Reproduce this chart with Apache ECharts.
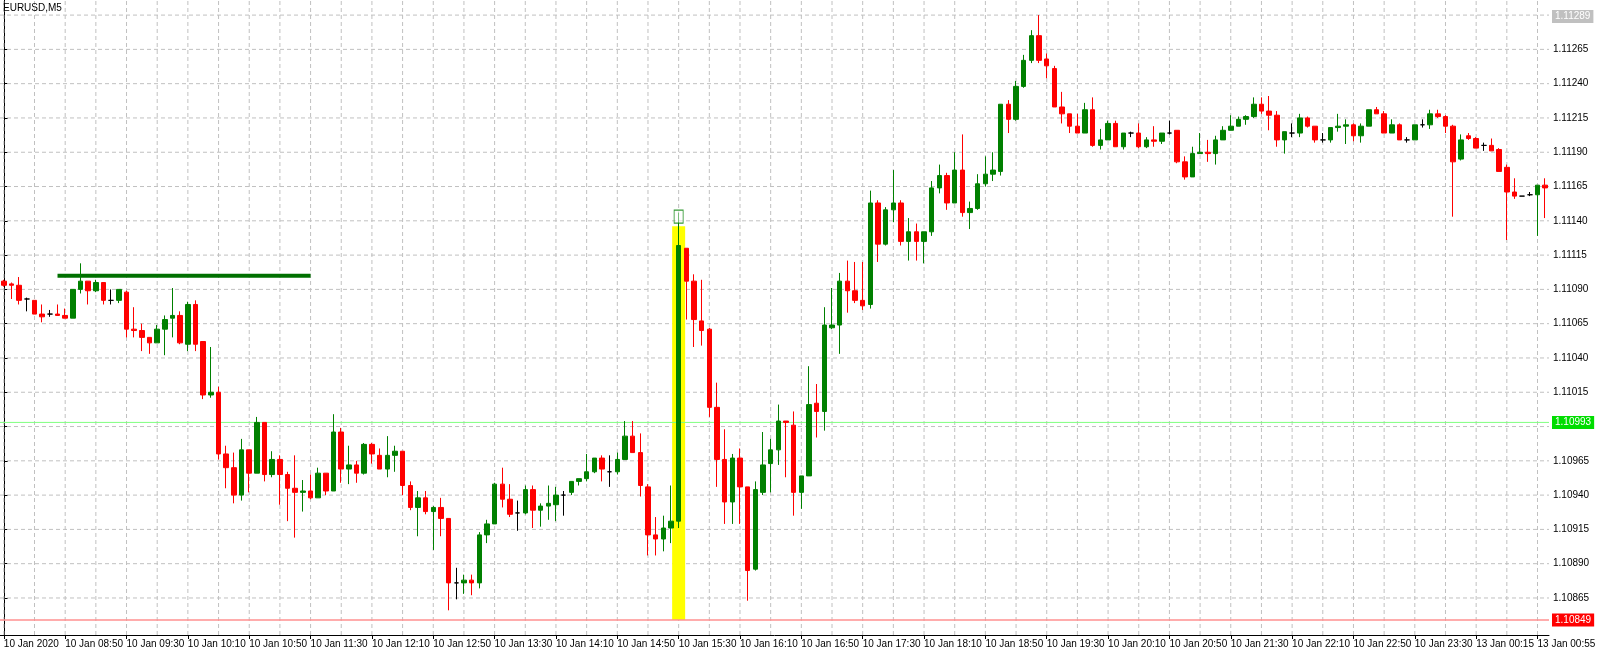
<!DOCTYPE html>
<html><head><meta charset="utf-8">
<script src="https://cdn.jsdelivr.net/npm/echarts@6/dist/echarts.min.js"></script>
<style>html,body{margin:0;padding:0;background:#fff}#c{width:1600px;height:651px}</style>
</head><body><div id="c"></div>
<script>
const symbolTitle = "EURUSD,M5";
// [open, close, low, high]
const candles = [
[1.11096,1.11093,1.11092,1.11097],[1.11094,1.11093,1.11083,1.11095],[1.11093,1.11082,1.11079,1.11099],[1.11083,1.11083,1.11074,1.11084],
[1.11082,1.11072,1.11072,1.11082],[1.11072,1.11070,1.11066,1.11079],[1.11072,1.11072,1.11070,1.11075],[1.11072,1.11071,1.11071,1.11079],
[1.11071,1.11069,1.11069,1.11076],[1.11069,1.11090,1.11069,1.11090],[1.11090,1.11096,1.11087,1.11109],[1.11096,1.11089,1.11079,1.11096],
[1.11089,1.11095,1.11088,1.11097],[1.11095,1.11082,1.11079,1.11095],[1.11082,1.11082,1.11079,1.11090],[1.11082,1.11090,1.11080,1.11090],
[1.11088,1.11061,1.11055,1.11089],[1.11061,1.11060,1.11055,1.11077],[1.11060,1.11055,1.11045,1.11065],[1.11055,1.11051,1.11043,1.11055],
[1.11051,1.11061,1.11051,1.11064],[1.11061,1.11068,1.11042,1.11071],[1.11069,1.11071,1.11055,1.11091],[1.11071,1.11051,1.11050,1.11074],
[1.11050,1.11079,1.11045,1.11081],[1.11079,1.11050,1.11045,1.11082],[1.11052,1.11013,1.11010,1.11052],[1.11013,1.11015,1.11011,1.11048],
[1.11015,1.10970,1.10966,1.11019],[1.10970,1.10960,1.10945,1.10976],[1.10960,1.10940,1.10934,1.10971],[1.10940,1.10973,1.10936,1.10981],
[1.10973,1.10956,1.10942,1.10973],[1.10956,1.10993,1.10956,1.10997],[1.10993,1.10955,1.10950,1.10993],[1.10955,1.10966,1.10953,1.10972],
[1.10966,1.10955,1.10933,1.10969],[1.10955,1.10945,1.10921,1.10957],[1.10945,1.10942,1.10909,1.10969],[1.10942,1.10943,1.10928,1.10951],
[1.10943,1.10938,1.10937,1.10955],[1.10938,1.10956,1.10938,1.10960],[1.10956,1.10943,1.10940,1.10956],[1.10943,1.10986,1.10943,1.10999],
[1.10986,1.10959,1.10949,1.10989],[1.10959,1.10962,1.10948,1.10976],[1.10962,1.10956,1.10949,1.10965],[1.10956,1.10977,1.10955,1.10978],
[1.10977,1.10970,1.10963,1.10978],[1.10969,1.10959,1.10959,1.10974],[1.10959,1.10969,1.10953,1.10983],[1.10969,1.10972,1.10957,1.10976],
[1.10972,1.10947,1.10940,1.10972],[1.10947,1.10931,1.10929,1.10950],[1.10931,1.10938,1.10910,1.10943],[1.10938,1.10928,1.10926,1.10943],
[1.10928,1.10931,1.10900,1.10932],[1.10931,1.10923,1.10910,1.10938],[1.10923,1.10876,1.10856,1.10923],[1.10876,1.10876,1.10864,1.10887],
[1.10876,1.10878,1.10868,1.10882],[1.10878,1.10876,1.10867,1.10882],[1.10876,1.10911,1.10872,1.10913],[1.10911,1.10919,1.10905,1.10922],
[1.10919,1.10948,1.10919,1.10949],[1.10948,1.10937,1.10931,1.10960],[1.10937,1.10926,1.10924,1.10948],[1.10927,1.10927,1.10914,1.10936],
[1.10927,1.10944,1.10926,1.10947],[1.10944,1.10929,1.10916,1.10947],[1.10929,1.10932,1.10917,1.10934],[1.10932,1.10934,1.10922,1.10947],
[1.10933,1.10940,1.10921,1.10946],[1.10940,1.10940,1.10925,1.10943],[1.10942,1.10950,1.10940,1.10950],[1.10950,1.10952,1.10947,1.10952],
[1.10952,1.10957,1.10950,1.10970],[1.10957,1.10967,1.10956,1.10967],[1.10967,1.10959,1.10950,1.10969],[1.10957,1.10957,1.10946,1.10969],
[1.10957,1.10966,1.10955,1.10971],[1.10966,1.10983,1.10966,1.10994],[1.10983,1.10971,1.10971,1.10994],[1.10971,1.10947,1.10939,1.10985],
[1.10946,1.10911,1.10896,1.10948],[1.10911,1.10908,1.10896,1.10924],[1.10908,1.10916,1.10899,1.10925],[1.10916,1.10921,1.10905,1.10947],
[1.10921,1.11122,1.10916,1.11146],[1.11120,1.11096,1.11068,1.11120],[1.11096,1.11068,1.11048,1.11101],[1.11067,1.11060,1.11049,1.11097],
[1.11061,1.11004,1.10997,1.11062],[1.11004,1.10966,1.10946,1.11022],[1.10966,1.10935,1.10919,1.10988],[1.10935,1.10967,1.10919,1.10970],
[1.10967,1.10946,1.10919,1.10974],[1.10946,1.10885,1.10863,1.10946],[1.10886,1.10944,1.10885,1.10950],[1.10942,1.10962,1.10940,1.10986],
[1.10963,1.10973,1.10942,1.10981],[1.10973,1.10994,1.10962,1.11006],[1.10994,1.10993,1.10953,1.10994],[1.10991,1.10942,1.10925,1.11001],
[1.10942,1.10954,1.10930,1.10954],[1.10954,1.11006,1.10954,1.11034],[1.11007,1.11001,1.10982,1.11021],[1.11001,1.11064,1.10987,1.11077],
[1.11062,1.11064,1.11061,1.11091],[1.11064,1.11096,1.11043,1.11102],[1.11096,1.11089,1.11073,1.11111],[1.11089,1.11082,1.11080,1.11110],
[1.11082,1.11078,1.11075,1.11110],[1.11079,1.11153,1.11076,1.11162],[1.11153,1.11123,1.11110,1.11155],[1.11123,1.11148,1.11122,1.11150],
[1.11148,1.11153,1.11139,1.11177],[1.11153,1.11125,1.11122,1.11155],[1.11125,1.11132,1.11111,1.11142],[1.11132,1.11125,1.11111,1.11138],
[1.11125,1.11132,1.11109,1.11132],[1.11132,1.11164,1.11129,1.11169],[1.11164,1.11173,1.11160,1.11181],[1.11173,1.11153,1.11148,1.11175],
[1.11153,1.11177,1.11153,1.11190],[1.11177,1.11146,1.11143,1.11203],[1.11146,1.11149,1.11134,1.11154],[1.11149,1.11167,1.11148,1.11174],
[1.11167,1.11174,1.11165,1.11187],[1.11174,1.11177,1.11169,1.11190],[1.11176,1.11225,1.11173,1.11225],[1.11225,1.11214,1.11204,1.11228],
[1.11214,1.11238,1.11213,1.11242],[1.11238,1.11257,1.11237,1.11261],[1.11257,1.11275,1.11255,1.11279],[1.11275,1.11257,1.11255,1.11290],
[1.11258,1.11253,1.11244,1.11262],[1.11251,1.11223,1.11223,1.11253],[1.11223,1.11218,1.11211,1.11234],[1.11218,1.11209,1.11204,1.11218],
[1.11209,1.11204,1.11204,1.11218],[1.11204,1.11221,1.11204,1.11226],[1.11221,1.11195,1.11194,1.11230],[1.11195,1.11199,1.11192,1.11207],
[1.11199,1.11211,1.11199,1.11213],[1.11211,1.11194,1.11194,1.11213],[1.11194,1.11204,1.11192,1.11204],[1.11204,1.11204,1.11201,1.11205],
[1.11204,1.11194,1.11193,1.11211],[1.11194,1.11199,1.11193,1.11201],[1.11199,1.11198,1.11194,1.11209],[1.11198,1.11204,1.11196,1.11204],
[1.11204,1.11204,1.11203,1.11213],[1.11206,1.11183,1.11182,1.11206],[1.11183,1.11172,1.11170,1.11187],[1.11172,1.11189,1.11172,1.11194],
[1.11189,1.11190,1.11189,1.11204],[1.11190,1.11189,1.11183,1.11199],[1.11189,1.11199,1.11181,1.11202],[1.11199,1.11206,1.11199,1.11209],
[1.11206,1.11209,1.11206,1.11217],[1.11209,1.11214,1.11209,1.11216],[1.11214,1.11216,1.11210,1.11217],[1.11216,1.11225,1.11215,1.11230],
[1.11225,1.11220,1.11218,1.11230],[1.11220,1.11217,1.11206,1.11231],[1.11217,1.11199,1.11194,1.11220],[1.11199,1.11205,1.11189,1.11205],
[1.11204,1.11204,1.11201,1.11211],[1.11204,1.11215,1.11201,1.11218],[1.11215,1.11209,1.11208,1.11216],[1.11209,1.11199,1.11197,1.11209],
[1.11199,1.11199,1.11197,1.11204],[1.11199,1.11208,1.11197,1.11208],[1.11208,1.11209,1.11205,1.11218],[1.11209,1.11210,1.11196,1.11214],
[1.11210,1.11202,1.11198,1.11211],[1.11202,1.11209,1.11197,1.11211],[1.11209,1.11221,1.11209,1.11221],[1.11221,1.11218,1.11218,1.11223],
[1.11218,1.11204,1.11204,1.11220],[1.11204,1.11210,1.11204,1.11214],[1.11210,1.11199,1.11199,1.11211],[1.11199,1.11199,1.11197,1.11201],
[1.11199,1.11210,1.11199,1.11210],[1.11210,1.11210,1.11208,1.11214],[1.11210,1.11218,1.11207,1.11221],[1.11218,1.11216,1.11215,1.11221],
[1.11216,1.11209,1.11204,1.11217],[1.11209,1.11183,1.11143,1.11210],[1.11185,1.11199,1.11184,1.11203],[1.11202,1.11200,1.11199,1.11204],
[1.11200,1.11193,1.11193,1.11201],[1.11195,1.11195,1.11191,1.11197],[1.11195,1.11191,1.11191,1.11200],[1.11192,1.11176,1.11176,1.11193],
[1.11179,1.11161,1.11126,1.11181],[1.11161,1.11158,1.11156,1.11171],[1.11158,1.11158,1.11158,1.11158],[1.11159,1.11159,1.11158,1.11161],
[1.11159,1.11166,1.11129,1.11166],[1.11166,1.11164,1.11142,1.11171]
];
const xTickLabels = ["10 Jan 2020","10 Jan 08:50","10 Jan 09:30","10 Jan 10:10","10 Jan 10:50","10 Jan 11:30","10 Jan 12:10","10 Jan 12:50","10 Jan 13:30","10 Jan 14:10","10 Jan 14:50","10 Jan 15:30","10 Jan 16:10","10 Jan 16:50","10 Jan 17:30","10 Jan 18:10","10 Jan 18:50","10 Jan 19:30","10 Jan 20:10","10 Jan 20:50","10 Jan 21:30","10 Jan 22:10","10 Jan 22:50","10 Jan 23:30","13 Jan 00:15","13 Jan 00:55"];
const yTicks = [1.10865,1.10890,1.10915,1.10940,1.10965,1.10990,1.11015,1.11040,1.11065,1.11090,1.11115,1.11140,1.11165,1.11190,1.11215,1.11240,1.11265];
const yGridExtra = [1.11290];
const askPrice = 1.11289, greenLevel = 1.10993, redLevel = 1.10849;
const trendLine = {from: 7, to: 40, price: 1.11100};
const highlight = {index: 88, low: 1.10849, high: 1.11136, marker: 1.11143};
const vGridStep = 4;
const yMin = 1.10838, yMax = 1.11301;

const N = candles.length;
const xL = -0.5, xR = N - 0.5;
const categories = candles.map((c, i) => i % 8 === 0 ? xTickLabels[i / 8] : String(i));
const candleData = candles.map(c => {
  if (c[0] === c[1]) return {value: c, itemStyle: {color: '#000', color0: '#000', borderColor: '#000', borderColor0: '#000'}};
  return c;
});
const hlBase = candles.map((c, i) => i === highlight.index ? highlight.low : '-');
const hlTop = candles.map((c, i) => i === highlight.index ? +(highlight.high - highlight.low).toFixed(5) : '-');
const gridPts = [];
yTicks.concat(yGridExtra).forEach(v => { gridPts.push([xL, v], [xR, v], '-'); });
candles.forEach((c, i) => { if (i % vGridStep === 0) gridPts.push([i, yMin], [i, yMax], '-'); });

const FONT = 'Liberation Sans, Arial';
const hLine = (v, color, width, bg, z) => ({
  type: 'line', xAxisIndex: 1, data: [[xL, v], [xR, v]], symbol: 'none', silent: true, z: z,
  lineStyle: {color: color, width: width, opacity: color ? 1 : 0},
  endLabel: {show: true, formatter: v.toFixed(5), color: '#fff', backgroundColor: bg, padding: [2, 3, 1, 3], fontSize: 10, fontFamily: FONT, distance: 3}
});
const chart = echarts.init(document.getElementById('c'));
chart.setOption({
  animation: false,
  graphic: [{type: 'text', left: 3, top: 3, z: 100, style: {text: symbolTitle, fontSize: 10, fontFamily: FONT, fill: '#000'}}],
  grid: {left: 0, right: 51, top: 0, bottom: 16, outerBoundsMode: 'none'},
  xAxis: [{
    type: 'category', data: categories, boundaryGap: true,
    axisLine: {show: true, lineStyle: {color: '#000'}},
    axisTick: {show: true, interval: 7, alignWithLabel: true, length: 4, lineStyle: {color: '#000'}},
    axisLabel: {interval: 7, align: 'left', margin: 4, color: '#000', fontSize: 10, fontFamily: FONT, hideOverlap: false},
    splitLine: {show: false}
  }, {
    type: 'value', min: xL, max: xR, show: false
  }],
  yAxis: {
    type: 'value', position: 'right', min: yMin, max: yMax, scale: true,
    axisLine: {show: true, lineStyle: {color: '#000'}},
    axisTick: {show: true, customValues: yTicks, length: 4, lineStyle: {color: '#000'}},
    axisLabel: {customValues: yTicks, formatter: v => v.toFixed(5), color: '#000', fontSize: 10, margin: 4, fontFamily: FONT},
    splitLine: {show: false}
  },
  series: [
    {type: 'line', xAxisIndex: 1, data: gridPts, connectNulls: false, symbol: 'none', silent: true, z: 0,
     lineStyle: {color: '#c0c0c0', width: 1, type: [4, 3]}},
    {type: 'bar', stack: 'hl', data: hlBase, barWidth: 13, itemStyle: {color: 'rgba(0,0,0,0)'}, silent: true, z: 1},
    {type: 'bar', stack: 'hl', data: hlTop, barWidth: 13, itemStyle: {color: '#ffff00'}, silent: true, z: 1},
    hLine(greenLevel, '#80ff80', 1, '#00dd00', 2),
    hLine(redLevel, '#ff9090', 1.5, '#ff0000', 2),
    hLine(askPrice, null, 1, '#c0c0c0', 2),
    {type: 'line', xAxisIndex: 1, data: [[trendLine.from, trendLine.price], [trendLine.to, trendLine.price]], symbol: 'none', silent: true, z: 2,
     lineStyle: {color: '#007000', width: 4}},
    {type: 'candlestick', data: candleData, barWidth: 5, z: 3,
     itemStyle: {color: '#008000', color0: '#ff0000', borderColor: '#008000', borderColor0: '#ff0000', borderWidth: 1}},
    {type: 'scatter', data: [[highlight.index, highlight.marker]], symbol: 'rect', symbolSize: [9, 13], z: 4,
     itemStyle: {color: 'rgba(255,255,255,0.6)', borderColor: '#008000', borderWidth: 1}, silent: true}
  ]
});
</script></body></html>
